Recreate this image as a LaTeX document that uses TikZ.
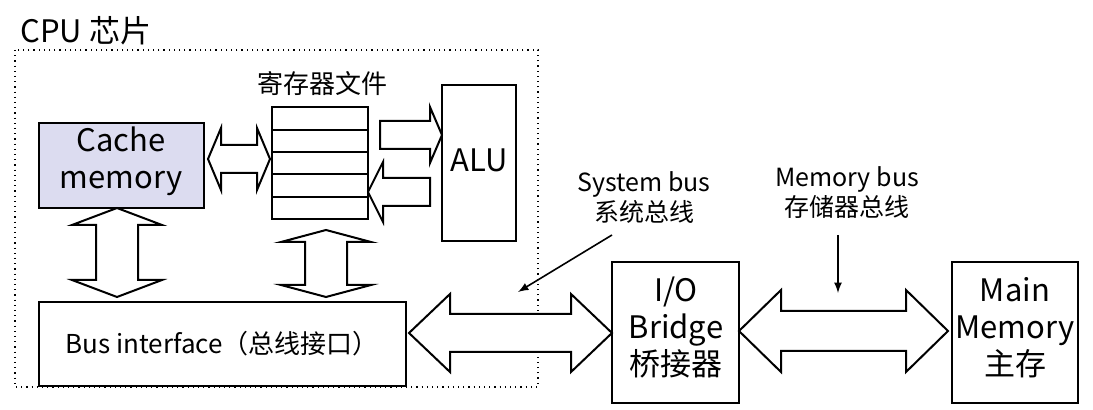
\documentclass[tikz,border=0pt]{standalone}
\usepackage{fontspec}
\setmainfont{Noto Sans CJK SC}[Scale=1]
\begin{document}
\newcommand\hdarr[6]{\draw[blk] (#1,#3) -- ({#1+#6},{#3-#5}) -- ({#1+#6},{#3-#4}) -- ({#2-#6},{#3-#4}) -- ({#2-#6},{#3-#5}) -- (#2,#3) -- ({#2-#6},{#3+#5}) -- ({#2-#6},{#3+#4}) -- ({#1+#6},{#3+#4}) -- ({#1+#6},{#3+#5}) -- cycle;}
\newcommand\vdarr[6]{\draw[blk] (#3,#1) -- ({#3-#5},{#1+#6}) -- ({#3-#4},{#1+#6}) -- ({#3-#4},{#2-#6}) -- ({#3-#5},{#2-#6}) -- (#3,#2) -- ({#3+#5},{#2-#6}) -- ({#3+#4},{#2-#6}) -- ({#3+#4},{#1+#6}) -- ({#3+#5},{#1+#6}) -- cycle;}
% tail, headbase, tip, yc, shaft half, head half
\newcommand\sarr[6]{\draw[blk] (#1,{#4-#5}) -- (#2,{#4-#5}) -- (#2,{#4-#6}) -- (#3,#4) -- (#2,{#4+#6}) -- (#2,{#4+#5}) -- (#1,{#4+#5}) -- cycle;}
\begin{tikzpicture}[x=0.5pt,y=-0.5pt,
  box/.style={draw,line width=1pt},
  blk/.style={draw,line width=1pt,fill=white,line join=miter},
  lbl/.style={font=\fontsize{12.5}{15}\selectfont,align=center,inner sep=0},
  big/.style={font=\fontsize{15.5}{18.5}\selectfont,align=center,inner sep=0}]
\useasboundingbox (0,0) rectangle (1093,410);
\fill[white] (0,0) rectangle (1093,410);
% CPU
\draw[dotted,line width=0.6pt] (15,50) rectangle (538,387);
\node[lbl,anchor=west,font=\fontsize{15.5}{17}\selectfont] (cpu) at (20,31) {CPU 芯片};
% cache
\draw[box,fill={rgb,255:red,220;green,220;blue,240}] (39,123) rectangle (204,208);
\node[big] (cache) at (121,161) {Cache\\memory};
% register file
\draw[box] (272,107) rectangle (368,219);
\foreach \y in {130,152,174,197} \draw[line width=1pt] (272,\y) -- (368,\y);
\node[lbl,font=\fontsize{13}{15}\selectfont] (reg) at (322,84) {寄存器文件};
% ALU
\draw[box] (442,85) rectangle (516,241);
\node[big] (alu) at (479,160) {ALU};
% bus interface
\draw[box] (39,302) rectangle (406,386);
\node[lbl,font=\fontsize{13}{15}\selectfont] (bi) at (222,344) {Bus interface（总线接口）};
% IO bridge
\draw[box] (612,262) rectangle (739,403);
\node[big] (io) at (676,328) {I/O\\Bridge\\桥接器};
% main memory
\draw[box] (952,262) rectangle (1078,403);
\node[big] (mm) at (1015,328) {Main\\Memory\\主存};
% block arrows
\hdarr{208}{270}{159}{14}{31}{13}
\sarr{380}{430}{442}{135}{14}{28}
\sarr{430}{383}{368}{192}{14}{30}
\vdarr{208}{297}{117}{21}{45}{17}
\vdarr{230}{297}{326}{21}{45}{12}
\hdarr{409}{612}{333}{19}{39}{41}
\hdarr{739}{948}{331}{20}{41}{42}
% labels
\node[lbl] (sb) at (644,198) {System bus\\系统总线};
\node[lbl] (mb) at (847,193) {Memory bus\\存储器总线};
\coordinate (sbt) at (518,292);
\coordinate (mbt) at (838,293);
\draw[line width=0.8pt,-latex] (612,235) -- (sbt);
\draw[line width=0.8pt,-latex] (838,235) -- (mbt);
\end{tikzpicture}
\end{document}
